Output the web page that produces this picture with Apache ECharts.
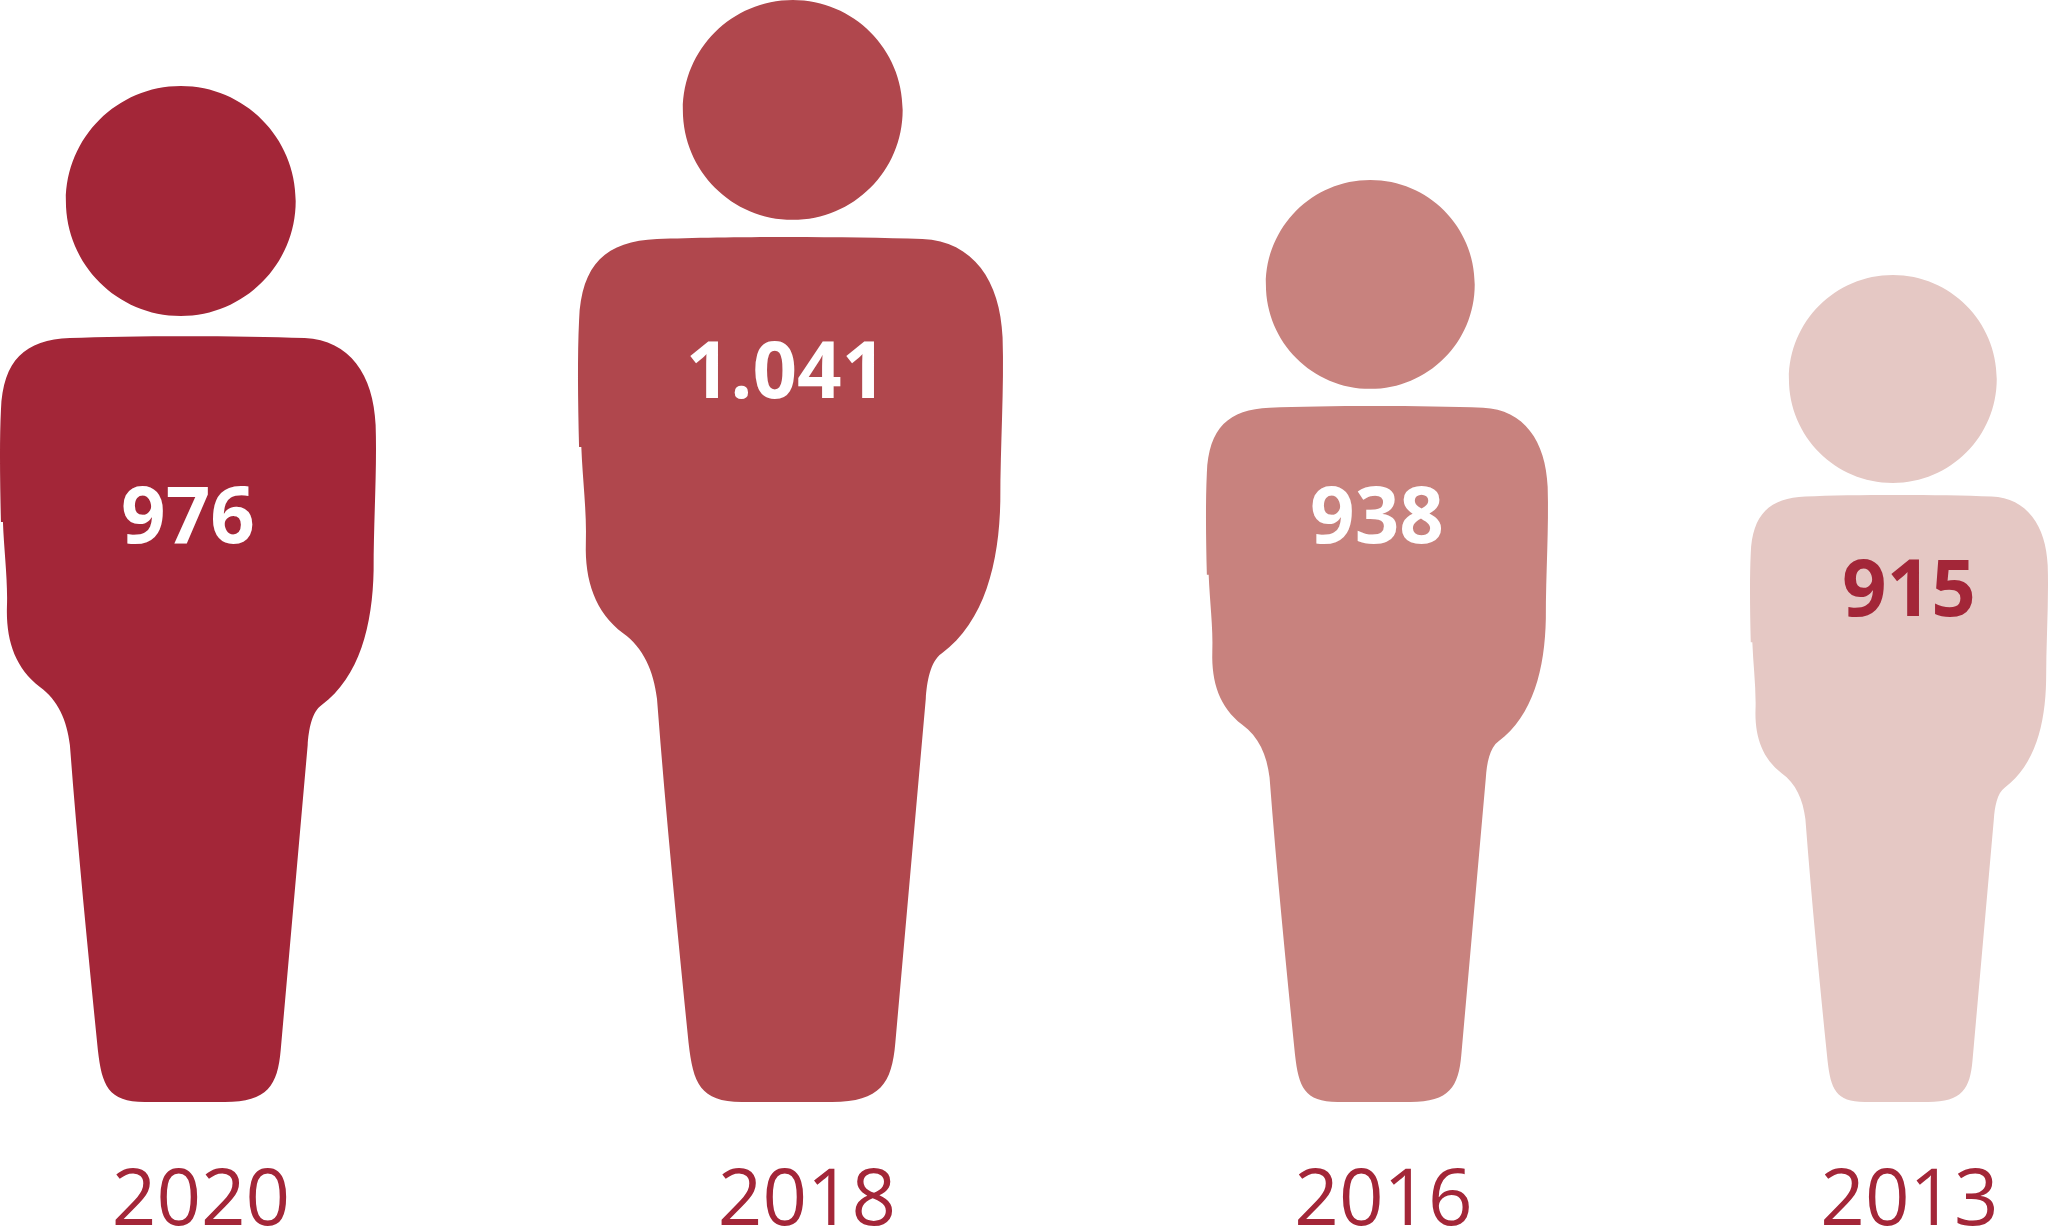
<!DOCTYPE html>
<html><head><meta charset="utf-8">
<style>html,body{margin:0;padding:0;background:#fff}#c{width:2048px;height:1229px}</style>
<script src="https://cdn.jsdelivr.net/npm/echarts@6/dist/echarts.min.js"></script>
</head><body><div id="c"></div>
<script>
// data
const years = ['2020', '2018', '2016', '2013'];
const values = [976, 1041, 938, 915];
// drawn figure height (the original infographic's own scale, not linear in the value)
const figureHeights = [1016, 1102, 922, 827];
const figureCenters = [188, 790.5, 1377, 1899];
const yearCenters = [201, 807, 1383.5, 1909.5];
const valueCentersX = [188, 786, 1377, 1909];
const valueCentersY = [581, 726, 581, 508];
const fills = ['#A32638', '#B0474D', '#C8827E', '#E5C8C4'];
const valueColors = ['#FFFFFF', '#FFFFFF', '#FFFFFF', '#A32638'];
// figure shape
const figureWidths = [376, 425, 342, 298];
const bodyHeights = [766, 865, 696, 607];
const headDiameters = [230, 220, 209, 208];
const headOffsets = [-7, 2.5, -6.5, -6];

const bodyOutline = [
  ['M', 70, 338],
  ['C', 130, 335.5, 240, 335.5, 305, 338],
  ['C', 350, 340, 374, 375, 376, 425],
  ['C', 377.5, 470, 374, 520, 374, 570],
  ['C', 373, 625, 360, 677, 322, 705],
  ['C', 312, 712, 309, 730, 308, 745],
  ['L', 281, 1050],
  ['C', 278, 1085, 268, 1102, 225, 1102],
  ['L', 145, 1102],
  ['C', 108, 1102, 102, 1085, 98, 1050],
  ['C', 88, 950, 78, 850, 70, 745],
  ['C', 67, 720, 58, 700, 40, 687],
  ['C', 15, 668, 6, 640, 7, 607],
  ['C', 8, 580, 4, 550, 3, 522],
  ['L', 1, 522],
  ['C', 0, 480, -0.5, 440, 1, 410],
  ['C', 3, 360, 25, 340, 70, 338]
];

function figurePath(i) {
  const w = figureWidths[i], H = figureHeights[i], bh = bodyHeights[i];
  const s = w / 376, top = H - bh;
  let d = '';
  bodyOutline.forEach(seg => {
    d += seg[0];
    for (let k = 1; k < seg.length; k += 2) {
      d += ' ' + (seg[k] * s).toFixed(2) + ' ' + (top + (seg[k + 1] - 336) * s).toFixed(2);
    }
    d += ' ';
  });
  d += 'Z ';
  const r = headDiameters[i] / 2, cx = w / 2 + headOffsets[i], cy = r, c = r * 0.5523;
  d += `M ${cx - r} ${cy} C ${cx - r} ${cy - c} ${cx - c} ${cy - r} ${cx} ${cy - r} ` +
       `C ${cx + c} ${cy - r} ${cx + r} ${cy - c} ${cx + r} ${cy} ` +
       `C ${cx + r} ${cy + c} ${cx + c} ${cy + r} ${cx} ${cy + r} ` +
       `C ${cx - c} ${cy + r} ${cx - r} ${cy + c} ${cx - r} ${cy} Z`;
  return 'path://' + d;
}

const fmt = v => String(v).replace(/\B(?=(\d{3})+$)/g, '.');
const chart = echarts.init(document.getElementById('c'), null, {renderer: 'canvas'});
chart.setOption({
  animation: false,
  backgroundColor: '#fff',
  grid: {left: 0, right: 0, top: 0, bottom: 127, outerBoundsMode: 'none'},
  xAxis: {
    type: 'value', min: 0, max: 2048, splitLine: {show: false},
    axisLine: {show: false}, axisTick: {show: false},
    axisLabel: {
      customValues: yearCenters,
      formatter: v => years[yearCenters.indexOf(v)],
      fontFamily: 'Open Sans', fontSize: 78, color: '#A32638', margin: 61,
      lineHeight: 80
    }
  },
  yAxis: {type: 'value', min: 0, max: 1102, show: false},
  series: [
    {
      type: 'pictorialBar',
      name: 'figures',
      barWidth: 400,
      symbolPosition: 'start',
      data: years.map((y, i) => ({
        value: [figureCenters[i], figureHeights[i]],
        name: y,
        symbol: figurePath(i),
        symbolSize: [figureWidths[i], '100%'],
        itemStyle: {color: fills[i]}
      }))
    },
    {
      type: 'scatter',
      name: 'values',
      symbolSize: 1,
      itemStyle: {color: 'transparent', opacity: 1},
      z: 5,
      data: values.map((v, i) => ({
        value: [valueCentersX[i], valueCentersY[i], v],
        label: {
          show: true, position: 'inside',
          formatter: fmt(v),
          fontFamily: 'Open Sans', fontWeight: 'bold', fontSize: 78,
          color: valueColors[i]
        }
      }))
    }
  ]
});
</script></body></html>
